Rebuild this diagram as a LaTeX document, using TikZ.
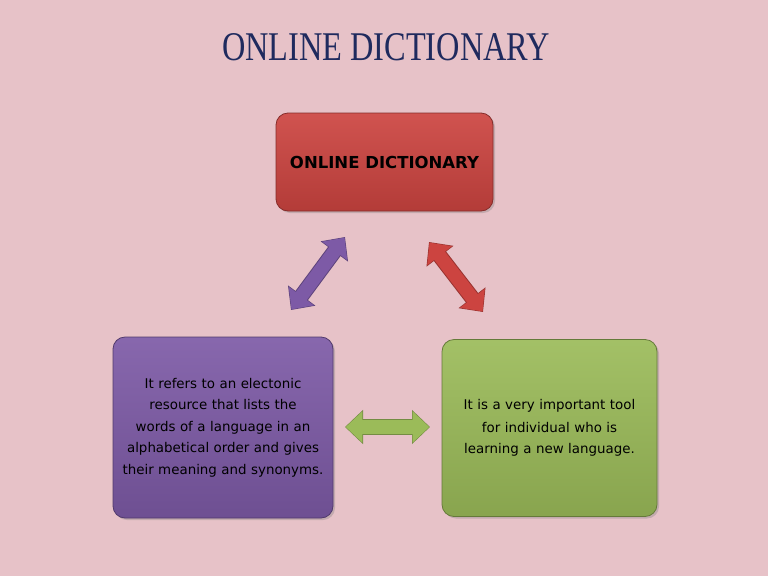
\documentclass[tikz,border=0pt]{standalone}
\usepackage{fontspec}
\usepackage{graphicx}
\setmainfont{Liberation Serif}
\newfontfamily\boxfont{DejaVu Sans}
\usetikzlibrary{arrows.meta,shadows}
\definecolor{pagebg}{HTML}{E7C2C8}
\definecolor{titleblue}{HTML}{1F2A5E}
\definecolor{offred}{HTML}{CC4440}
\definecolor{offpurple}{HTML}{7D5AA6}
\definecolor{offgreen}{HTML}{9BBB59}
\tikzset{
  box/.style={rounded corners=12pt, draw=#1!65!black, line width=0.8pt,
    top color=#1!92!white, bottom color=#1!88!black,
    drop shadow={opacity=0.35, shadow xshift=2pt, shadow yshift=-2pt},
    align=center, font=\boxfont\fontsize{13.4}{21.5}\selectfont, text=black},
}
\begin{document}
\begin{tikzpicture}[x=1pt, y=-1pt]
  \fill[pagebg] (0,0) rectangle (768,576);
  \useasboundingbox (0,0) rectangle (768,576);
  % title
  \node[text=titleblue, anchor=base] (title) at (386,60)
    {\resizebox{328pt}{27pt}{ONLINE DICTIONARY}};
  % boxes
  \node[box=offred, minimum width=217pt, minimum height=98pt] (dict) at (384.5,162)
    {\fontsize{16.5}{20}\selectfont\bfseries ONLINE DICTIONARY};
  \node[box=offpurple, minimum width=220pt, minimum height=181pt, text width=210pt] (refers) at (223,427.5)
    {It refers to an electonic\\ resource that lists the\\ words of a language in an\\ alphabetical order and gives\\ their meaning and synonyms.};
  \node[box=offgreen, minimum width=215pt, minimum height=177pt, text width=205pt] (tool) at (549.5,428)
    {\baselineskip=23pt It is a very important tool\\ for individual who is\\ learning a new language.};
  % arrow ends
  \coordinate (p1) at (291,310);
  \coordinate (p2) at (345,237);
  \coordinate (r1) at (429,242);
  \coordinate (r2) at (483,312);
  \coordinate (g1) at (345,427);
  \coordinate (g2) at (430,427);
  \def\links {p1/p2/offpurple, r1/r2/offred, g1/g2/offgreen}  % list elements
  \foreach \u\v\c in \links
  { \draw[line width=15.5pt, \c!75!black, {Triangle[length=18pt,width=33pt]}-{Triangle[length=18pt,width=33pt]}] (\u) -- (\v);
    \draw[line width=13.5pt, \c, {Triangle[length=16.5pt,width=30pt]}-{Triangle[length=16.5pt,width=30pt]}, shorten <=0.8pt, shorten >=0.8pt] (\u) -- (\v);
  }
\end{tikzpicture}
\end{document}
